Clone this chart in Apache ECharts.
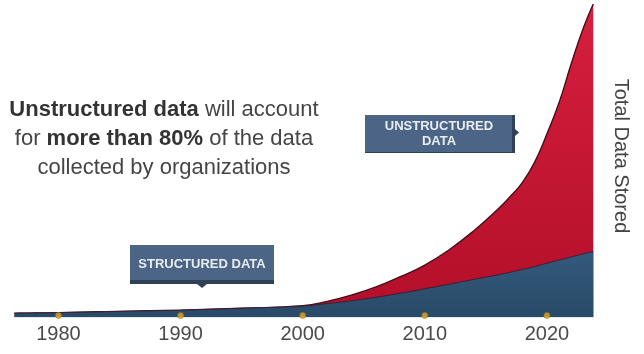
<!DOCTYPE html>
<html>
<head>
<meta charset="utf-8">
<script src="https://cdn.jsdelivr.net/npm/echarts@6/dist/echarts.min.js"></script>
<style>
  html, body { margin: 0; padding: 0; background: #fff; }
  #container { width: 644px; height: 354px; }
</style>
</head>
<body>
<div id="container"></div>
<script>
// years sampled along the curves
let years = [1976.4, 1980, 1985, 1990, 1995, 2000, 2002, 2004, 2006, 2008, 2010, 2012, 2014, 2016, 2017, 2018, 2019, 2020, 2021, 2022, 2023, 2023.8]
// total data stored (top of the red area)
let totalData = [1.2, 1.4, 1.8, 2.2, 2.8, 3.6, 5.0, 7.0, 9.6, 12.9, 16.6, 21.5, 27.5, 34.5, 38.5, 43, 49.5, 58.5, 68.5, 81, 92.5, 100]
// structured data (top of the blue area)
let structuredData = [1.2, 1.4, 1.8, 2.2, 2.8, 3.5, 4.3, 5.2, 6.3, 7.6, 9.0, 10.5, 12.0, 13.5, 14.3, 15.2, 16.1, 17.2, 18.2, 19.2, 20.2, 20.9]
// decade tick labels
let tickYears = [1980, 1990, 2000, 2010, 2020]

let pairs = (vals) => years.map((y, i) => [y, vals[i]])

let mychart = echarts.init(document.getElementById('container'))

let options = {
    animation: false,
    grid: {
        left: 14.5,
        right: 50.7,
        top: 4,
        bottom: 37
    },
    xAxis: {
        type: 'value',
        min: 1976.4,
        max: 2023.8,
        axisLine: {
            show: true,
            lineStyle: { color: '#e6e6e6', width: 1 }
        },
        axisTick: { show: false },
        splitLine: { show: false },
        axisLabel: {
            customValues: tickYears,
            margin: 7,
            color: '#4a4a4a',
            fontSize: 20,
            fontFamily: '"Liberation Sans", Arial, sans-serif',
            formatter: (v) => String(v)
        }
    },
    yAxis: {
        type: 'value',
        min: 0,
        max: 100,
        show: false
    },
    series: [
        {
            name: 'Unstructured',
            type: 'line',
            data: pairs(totalData),
            smooth: 0.5,
            symbol: 'none',
            z: 2,
            lineStyle: { color: '#4a0c18', width: 1.4 },
            areaStyle: {
                opacity: 1,
                color: new echarts.graphic.LinearGradient(0, 0, 0, 1, [
                    { offset: 0, color: '#d61f3e' },
                    { offset: 1, color: '#b30f2a' }
                ])
            }
        },
        {
            name: 'Structured',
            type: 'line',
            data: pairs(structuredData),
            smooth: 0.5,
            symbol: 'none',
            z: 3,
            lineStyle: { color: '#3a1f33', width: 1 },
            areaStyle: {
                opacity: 1,
                color: new echarts.graphic.LinearGradient(0, 0, 0, 1, [
                    { offset: 0, color: '#335a7c' },
                    { offset: 1, color: '#294a68' }
                ])
            }
        },
        {
            type: 'scatter',
            data: tickYears.map(y => [y, 0]),
            symbolSize: 6,
            symbolOffset: [0, -1.5],
            z: 5,
            itemStyle: { color: '#e2a92a', borderColor: '#9c7414', borderWidth: 0.8 }
        }
    ],
    graphic: {
        elements: [
            {
                type: 'text',
                x: 164,
                y: 139,
                style: {
                    text: '{b|Unstructured data} will account\nfor {b|more than 80%} of the data\ncollected by organizations',
                    align: 'center',
                    verticalAlign: 'middle',
                    fill: '#454545',
                    fontSize: 22,
                    lineHeight: 29,
                    fontFamily: '"Liberation Sans", Arial, sans-serif',
                    rich: {
                        b: { fontWeight: 'bold', fill: '#333', fontSize: 22, lineHeight: 29, fontFamily: '"Liberation Sans", Arial, sans-serif' }
                    }
                }
            },
            {
                type: 'text',
                x: 621,
                y: 156,
                rotation: -Math.PI / 2,
                style: {
                    text: 'Total Data Stored',
                    align: 'center',
                    verticalAlign: 'middle',
                    fill: '#444',
                    fontSize: 20,
                    fontFamily: '"Liberation Sans", Arial, sans-serif'
                }
            },
            // unstructured label box
            {
                type: 'rect',
                shape: { x: 365, y: 115, width: 150, height: 38 },
                style: { fill: '#2f4157' },
                z: 10
            },
            {
                type: 'rect',
                shape: { x: 365, y: 115, width: 147, height: 37 },
                style: { fill: '#4c6586' },
                z: 11
            },
            {
                type: 'polygon',
                shape: { points: [[515, 129], [519, 132.5], [515, 136]] },
                style: { fill: '#2f4157' },
                z: 11
            },
            {
                type: 'text',
                x: 439,
                y: 134,
                z: 12,
                style: {
                    text: 'UNSTRUCTURED\nDATA',
                    align: 'center',
                    verticalAlign: 'middle',
                    fill: '#e8edf2',
                    fontSize: 13,
                    lineHeight: 15,
                    fontWeight: 'bold',
                    fontFamily: '"Liberation Sans", Arial, sans-serif'
                }
            },
            // structured label box
            {
                type: 'rect',
                shape: { x: 130, y: 245, width: 144, height: 39 },
                style: { fill: '#2f4157' },
                z: 10
            },
            {
                type: 'rect',
                shape: { x: 130, y: 245, width: 144, height: 35 },
                style: { fill: '#4c6586' },
                z: 11
            },
            {
                type: 'polygon',
                shape: { points: [[197, 284], [202, 288], [207, 284]] },
                style: { fill: '#2f4157' },
                z: 11
            },
            {
                type: 'text',
                x: 202,
                y: 264,
                z: 12,
                style: {
                    text: 'STRUCTURED DATA',
                    align: 'center',
                    verticalAlign: 'middle',
                    fill: '#e8edf2',
                    fontSize: 13,
                    fontWeight: 'bold',
                    fontFamily: '"Liberation Sans", Arial, sans-serif'
                }
            }
        ]
    }
}

mychart.setOption(options)
window.addEventListener('resize', () => { mychart.resize() })
</script>
</body>
</html>
